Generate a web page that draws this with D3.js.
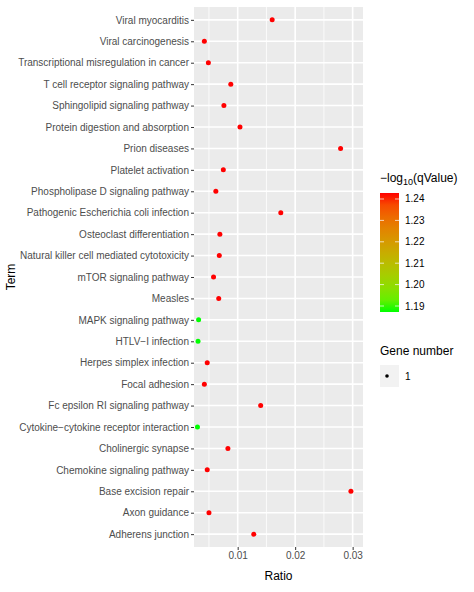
<!DOCTYPE html>
<meta charset="utf-8">
<script src="https://d3js.org/d3.v7.min.js"></script>
<style>
    body { margin: 0; background: #fff; }
    text { font-family: "Liberation Sans", Arial, sans-serif; }
</style>
<body>
<div id="my_dataviz"></div>
<script>
    // terms, top to bottom as drawn
    var terms = ["Viral myocarditis", "Viral carcinogenesis", "Transcriptional misregulation in cancer",
        "T cell receptor signaling pathway", "Sphingolipid signaling pathway", "Protein digestion and absorption",
        "Prion diseases", "Platelet activation", "Phospholipase D signaling pathway",
        "Pathogenic Escherichia coli infection", "Osteoclast differentiation",
        "Natural killer cell mediated cytotoxicity", "mTOR signaling pathway", "Measles",
        "MAPK signaling pathway", "HTLV\u2212I infection", "Herpes simplex infection", "Focal adhesion",
        "Fc epsilon RI signaling pathway", "Cytokine\u2212cytokine receptor interaction",
        "Cholinergic synapse", "Chemokine signaling pathway", "Base excision repair",
        "Axon guidance", "Adherens junction"];

    var ratio = [0.0160, 0.0042, 0.0049, 0.0088, 0.0076, 0.0104, 0.0279, 0.0075, 0.0062,
        0.0175, 0.0069, 0.0068, 0.0058, 0.0067, 0.0032, 0.0031, 0.0047, 0.0042,
        0.0140, 0.0030, 0.0083, 0.0047, 0.0297, 0.0050, 0.0128];

    // -log10(qValue)
    var qValue = [1.2428, 1.2428, 1.2428, 1.2428, 1.2428, 1.2428, 1.2428, 1.2428, 1.2428,
        1.2428, 1.2428, 1.2428, 1.2428, 1.2428, 1.1872, 1.1872, 1.2428, 1.2428,
        1.2428, 1.1872, 1.2428, 1.2428, 1.2428, 1.2428, 1.2428];

    var geneNumber = [1, 1, 1, 1, 1, 1, 1, 1, 1, 1, 1, 1, 1, 1, 1, 1, 1, 1, 1, 1, 1, 1, 1, 1, 1];

    var xTicks = [0.01, 0.02, 0.03];
    var xMinorTicks = [0.005, 0.015, 0.025];
    var colorTicks = [1.19, 1.20, 1.21, 1.22, 1.23, 1.24];
    var sizeTicks = [1];

    var data = terms.map(function(t, i) {
        return { term: t, ratio: ratio[i], q: qValue[i], n: geneNumber[i] };
    });

    // panel box
    var panel = { left: 194, right: 363, top: 7, bottom: 547 };

    var svg = d3.select("#my_dataviz")
        .append("svg")
        .attr("width", 474)
        .attr("height", 592);

    var x = d3.scaleLinear()
        .domain([0.0024, 0.0318])
        .range([panel.left, panel.right]);

    var y = d3.scalePoint()
        .domain(terms)
        .range([panel.top, panel.bottom])
        .padding(0.6);

    var color = d3.scaleLinear()
        .domain(d3.extent(qValue))
        .range(["#00ff00", "#ff0000"])
        .interpolate(d3.interpolateLab);

    // panel background + grid
    svg.append("rect")
        .attr("x", panel.left)
        .attr("y", panel.top)
        .attr("width", panel.right - panel.left)
        .attr("height", panel.bottom - panel.top)
        .attr("fill", "#ebebeb");

    svg.selectAll(".minor")
        .data(xMinorTicks)
        .enter().append("line")
        .attr("x1", d => x(d)).attr("x2", d => x(d))
        .attr("y1", panel.top).attr("y2", panel.bottom)
        .attr("stroke", "#fff").attr("stroke-width", 0.8);

    svg.selectAll(".majorx")
        .data(xTicks)
        .enter().append("line")
        .attr("x1", d => x(d)).attr("x2", d => x(d))
        .attr("y1", panel.top).attr("y2", panel.bottom)
        .attr("stroke", "#fff").attr("stroke-width", 1.6);

    svg.selectAll(".majory")
        .data(terms)
        .enter().append("line")
        .attr("x1", panel.left).attr("x2", panel.right)
        .attr("y1", d => y(d)).attr("y2", d => y(d))
        .attr("stroke", "#fff").attr("stroke-width", 1.6);

    // axes
    var yAxis = svg.append("g")
        .attr("transform", "translate(" + panel.left + ",0)")
        .call(d3.axisLeft(y).tickSize(3).tickPadding(2));
    var xAxis = svg.append("g")
        .attr("transform", "translate(0," + panel.bottom + ")")
        .call(d3.axisBottom(x).tickValues(xTicks).tickSize(3).tickPadding(2).tickFormat(d3.format(".2f")));

    [xAxis, yAxis].forEach(function(a) {
        a.select(".domain").remove();
        a.selectAll(".tick line").attr("stroke", "#333").attr("stroke-width", 1);
        a.selectAll(".tick text")
            .attr("fill", "#4d4d4d")
            .style("font-size", "10px")
            .style("font-family", "'Liberation Sans', Arial, sans-serif");
    });
    xAxis.selectAll(".tick text").text(d => d3.format(".2f")(d).replace(/^0\.0(\d)$/, "0.0$1"));

    // points
    svg.append("g")
        .selectAll("circle")
        .data(data)
        .enter().append("circle")
        .attr("cx", d => x(d.ratio))
        .attr("cy", d => y(d.term))
        .attr("r", 2.5)
        .attr("fill", d => color(d.q));

    // axis titles
    svg.append("text")
        .attr("x", (panel.left + panel.right) / 2)
        .attr("y", 580)
        .attr("text-anchor", "middle")
        .style("font-size", "12px")
        .text("Ratio");

    svg.append("text")
        .attr("transform", "translate(15," + ((panel.top + panel.bottom) / 2) + ") rotate(-90)")
        .attr("text-anchor", "middle")
        .style("font-size", "12px")
        .text("Term");

    // colour legend
    var lg = svg.append("g");
    var title = lg.append("text")
        .attr("x", 380)
        .attr("y", 182)
        .style("font-size", "12px");
    title.append("tspan").text("\u2212log");
    title.append("tspan").attr("dy", 3).style("font-size", "9px").text("10");
    title.append("tspan").attr("dy", -3).text("(qValue)");

    var cbar = { x: 380, w: 19, top: 193, bottom: 312 };
    var cy = d3.scaleLinear()
        .domain(d3.extent(qValue))
        .range([cbar.bottom, cbar.top]);

    var grad = svg.append("defs").append("linearGradient")
        .attr("id", "qgrad")
        .attr("x1", 0).attr("y1", 1).attr("x2", 0).attr("y2", 0);
    grad.selectAll("stop")
        .data(d3.range(0, 1.01, 0.1))
        .enter().append("stop")
        .attr("offset", d => d)
        .attr("stop-color", d => color(color.domain()[0] + d * (color.domain()[1] - color.domain()[0])));

    lg.append("rect")
        .attr("x", cbar.x).attr("y", cbar.top)
        .attr("width", cbar.w).attr("height", cbar.bottom - cbar.top)
        .attr("fill", "url(#qgrad)");

    var ct = lg.selectAll(".ctick")
        .data(colorTicks)
        .enter().append("g")
        .attr("transform", d => "translate(0," + cy(d) + ")");
    ct.append("line")
        .attr("x1", cbar.x).attr("x2", cbar.x + 4)
        .attr("stroke", "#fff").attr("stroke-opacity", 0.7);
    ct.append("line")
        .attr("x1", cbar.x + cbar.w - 4).attr("x2", cbar.x + cbar.w)
        .attr("stroke", "#fff").attr("stroke-opacity", 0.7);
    ct.append("text")
        .attr("x", 405)
        .attr("dy", "0.35em")
        .attr("fill", "#000")
        .style("font-size", "10px")
        .text(d => d3.format(".2f")(d));

    // size legend
    var sg = svg.append("g");
    sg.append("text")
        .attr("x", 380)
        .attr("y", 355)
        .style("font-size", "12px")
        .text("Gene number");

    var sk = sg.selectAll(".skey")
        .data(sizeTicks)
        .enter().append("g")
        .attr("transform", "translate(380,365)");
    sk.append("rect")
        .attr("width", 19).attr("height", 22)
        .attr("fill", "#f2f2f2");
    sk.append("circle")
        .attr("cx", 7).attr("cy", 11)
        .attr("r", 1.8)
        .attr("fill", "#000");
    sk.append("text")
        .attr("x", 25).attr("y", 11)
        .attr("dy", "0.35em")
        .style("font-size", "10px")
        .text(d => d);
</script>
</body>
